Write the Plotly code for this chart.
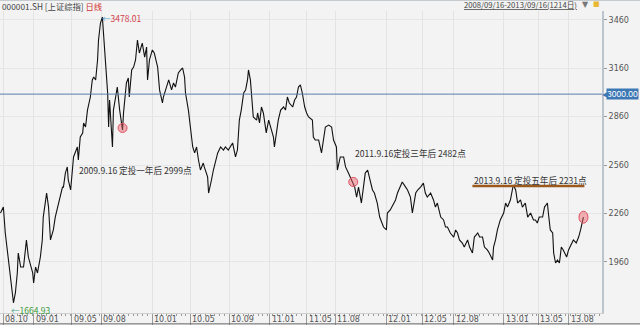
import plotly.graph_objects as go

# ---- data (trading-day index, close) ----
days = [0,6,10,17,25,27,31,35,37,42,48,54,58,67,69,73,77,83,87,89,96,100,104,108,110,114,119,125,129,131,135,139,141,146,150,152,160,162,166,171,173,177,181,187,191,194,198,202,204,208,212,214,218,223,225,227,233,235,241,243,248,254,256,262,266,268,273,277,281,285,289,295,300,304,306,310,316,320,325,327,331,337,339,345,350,356,360,364,370,375,379,383,385,391,395,400,404,408,412,416,422,424,431,433,439,443,452,458,464,468,474,483,489,493,497,501,506,510,514,516,520,524,526,533,535,539,543,547,553,558,564,568,570,574,578,583,589,593,597,601,608,612,616,620,624,628,633,637,641,649,651,655,662,668,672,676,683,689,693,699,701,707,714,718,724,732,737,741,745,751,755,759,764,768,774,778,784,789,793,797,803,805,811,818,822,826,832,836,843,847,853,857,864,868,874,880,884,888,895,901,905,909,916,922,926,930,936,943,947,951,955,961,965,972,976,982,986,993,997,1003,1007,1013,1017,1024,1026,1030,1034,1040,1047,1051,1055,1061,1065,1067,1072,1076,1082,1086,1092,1097,1103,1109,1113,1117,1121,1128,1132,1138,1140,1144,1149,1151,1155,1159,1163,1167,1171,1178,1182,1188,1192,1198,1203,1207,1211,1213]
closes = [2262,2299,2138,1970,1784,1705,1766,1890,2014,1927,1927,2095,1989,1890,1828,1927,1890,1989,2095,2237,2386,2299,2095,2138,2157,2237,2299,2361,2423,2423,2510,2548,2467,2405,2572,2610,2672,2591,2734,2759,2821,2796,2901,2982,3088,3106,3088,3212,3336,3441,3478,3379,3230,3007,2796,2963,2672,2901,3007,3044,2901,2777,2883,3069,3100,2982,3150,3168,3212,3336,3255,3317,3230,3292,3088,3212,3274,3255,3193,3168,3026,2945,2982,3044,3088,3026,3069,3044,3131,3150,3162,3106,3007,2901,2796,2672,2635,2672,2591,2529,2572,2548,2486,2386,2467,2529,2635,2672,2653,2672,2653,2697,2610,2653,2839,2901,3007,3026,3088,3150,3088,2920,2858,2839,2883,2821,2920,2883,2759,2839,2777,2734,2672,2759,2839,2901,2920,2901,2982,2945,2920,2963,2982,3044,3057,3007,2920,2883,2858,2839,2734,2715,2715,2635,2715,2796,2808,2796,2715,2672,2529,2610,2610,2548,2510,2455,2423,2361,2423,2324,2423,2510,2529,2486,2405,2386,2324,2237,2200,2175,2157,2262,2281,2324,2343,2386,2423,2455,2423,2405,2361,2262,2386,2405,2423,2448,2386,2361,2386,2343,2299,2324,2237,2219,2175,2175,2138,2113,2157,2138,2095,2076,2051,2095,2051,2014,2113,2138,2113,2113,2051,2033,2014,1970,2051,2095,2157,2219,2262,2324,2299,2343,2405,2436,2405,2324,2343,2299,2324,2237,2262,2219,2219,2200,2237,2237,2299,2324,2262,2157,2138,2014,1952,1970,1952,2051,2033,1989,2033,2076,2095,2076,2113,2157,2219,2236]

tick_days = [6, 69, 148, 210, 316, 395, 476, 560, 637, 697, 803, 878, 943, 1047, 1119, 1182]
tick_labels = ["08.10", "09.01", "09.05", "09.08", "10.01", "10.05", "10.09", "11.01",
               "11.05", "11.08", "12.01", "12.05", "12.08", "13.01", "13.05", "13.08"]
y_ticks = [1960, 2260, 2560, 2860, 3160, 3460]
ref_level = 3000

max_day, max_val, max_label = 212, 3478, 3478.01
min_day, min_val, min_label = 27, 1705, 1664.93

mark_days = [254, 734, 1213]
mark_vals = [2790, 2455, 2236]
mark_w = [9, 9, 9]
mark_h = [9, 9, 12]

note_texts = ["2009.9.16 定投一年后 2999点", "2011.9.16定投三年后 2482点", "2013.9.16 定投五年后 2231点"]
note_days = [160, 734, 982]
note_vals = [2529, 2635, 2470]
underline_days = [982, 1215]
underline_val = 2430

BG = "#f3f3f3"
FONT = "Noto Sans CJK SC"

fig = go.Figure()
fig.add_trace(go.Scatter(x=days, y=closes, mode="lines",
                         line=dict(color="#111111", width=1.1), hoverinfo="skip"))

shapes = []
shapes.append(dict(type="line", xref="paper", x0=0, x1=1, yref="y", y0=ref_level, y1=ref_level,
                   line=dict(color="#5a7fa8", width=1)))
shapes.append(dict(type="line", xref="x", x0=underline_days[0], x1=underline_days[1], yref="y",
                   y0=underline_val, y1=underline_val, line=dict(color="#9a5a1c", width=2.5)))
for d, v, w, h in zip(mark_days, mark_vals, mark_w, mark_h):
    shapes.append(dict(type="circle", xref="x", yref="y", xsizemode="pixel", ysizemode="pixel",
                       xanchor=d, yanchor=v, x0=-w/2, x1=w/2, y0=-h/2, y1=h/2,
                       fillcolor="rgba(240,90,100,0.45)", line=dict(color="#e05060", width=1)))
shapes.append(dict(type="line", xref="paper", x0=0, x1=1.07, yref="paper", y0=1.0375, y1=1.0375,
                   line=dict(color="#9aa4ae", width=1.5)))
shapes.append(dict(type="line", xref="paper", x0=0, x1=1.07, yref="paper", y0=-0.036, y1=-0.036,
                   line=dict(color="#666666", width=1)))

ann = []
for t, d, v in zip(note_texts, note_days, note_vals):
    ann.append(dict(x=d, y=v, xref="x", yref="y", text=t, showarrow=False, xanchor="left",
                    yanchor="middle", font=dict(family=FONT, size=8.6, color="#333333")))
ann.append(dict(x=max_day, y=max_val, xref="x", yref="y", xanchor="left", yanchor="middle",
                showarrow=False, xshift=-2, yshift=-1,
                text="<span style='color:#5aa6c8'>←</span><span style='color:#d2404a'>%.2f</span>" % max_label,
                font=dict(family=FONT, size=8.5)))
ann.append(dict(x=min_day, y=min_val, xref="x", yref="y", xanchor="left", yanchor="middle",
                showarrow=False, xshift=-4, yshift=-7,
                text="<span style='color:#4aa890'>←</span><span style='color:#3a9a3a'>%.2f</span>" % min_label,
                font=dict(family=FONT, size=8.5)))
# header
ann.append(dict(x=0, y=1.018, xref="paper", yref="paper", xanchor="left", yanchor="middle", showarrow=False,
                text="000001.SH [上证综指] <span style='color:#d23030'>日线</span>",
                font=dict(family=FONT, size=8.3, color="#444444")))
ann.append(dict(x=0.962, y=1.02, xref="paper", yref="paper", xanchor="right", yanchor="middle", showarrow=False,
                text="<u>2008/09/16-2013/09/16(1214日)</u>",
                font=dict(family=FONT, size=7.7, color="#444444")))
ann.append(dict(x=0.963, y=1.02, xref="paper", yref="paper", xanchor="left", yanchor="middle", showarrow=False,
                text="▼", font=dict(family="DejaVu Sans", size=8, color="#777777")))
ann.append(dict(x=0.981, y=1.022, xref="paper", yref="paper", xanchor="left", yanchor="middle", showarrow=False,
                text="■", font=dict(family="DejaVu Sans", size=7, color="#e8b830")))
# 3000 tag
ann.append(dict(x=1, y=ref_level, xref="paper", yref="y", xanchor="left", yanchor="middle", showarrow=False,
                xshift=4, text="%.2f" % ref_level, bgcolor="#3c78b4", borderpad=0,
                font=dict(family="Liberation Sans", size=8.5, color="white")))
ann.append(dict(x=1, y=ref_level, xref="paper", yref="y", xanchor="left", yanchor="middle", showarrow=False,
                xshift=-2, text="◀", font=dict(family="DejaVu Sans", size=8, color="#3c78b4")))
# x tick labels (left-aligned next to the tick bar)
for d, lab in zip(tick_days, tick_labels):
    ann.append(dict(x=d, y=0, xref="x", yref="paper", xanchor="left", yanchor="top", showarrow=False,
                    text=lab, font=dict(family="DejaVu Sans", size=8, color="#555555")))

fig.update_layout(
    width=640, height=325,
    margin=dict(l=0, r=38, t=11, b=12),
    paper_bgcolor=BG, plot_bgcolor=BG,
    showlegend=False,
    shapes=shapes, annotations=ann,
    xaxis=dict(range=[-1, 1251.6], tickmode="array", tickvals=tick_days, ticktext=[""] * len(tick_days),
               ticks="outside", ticklen=11, tickcolor="#9a9a9a", tickwidth=1,
               showgrid=True, gridcolor="#e3e3e3", gridwidth=1, zeroline=False,
               showline=True, linecolor="#d0d0d0", linewidth=1,
               minor=dict(tickmode="linear", tick0=6, dtick=10, ticks="outside", ticklen=2,
                          tickcolor="#9a9a9a", showgrid=False)),
    yaxis=dict(range=[1641.6, 3515.8], side="right", tickmode="array", tickvals=y_ticks,
               ticks="outside", ticklen=3, tickcolor="#999999",
               tickfont=dict(family="DejaVu Sans", size=8, color="#555555"),
               showgrid=True, gridcolor="#e6e6e6", zeroline=False,
               showline=True, linecolor="#bcc5ce", linewidth=2),
)

fig.write_html("out.html")
